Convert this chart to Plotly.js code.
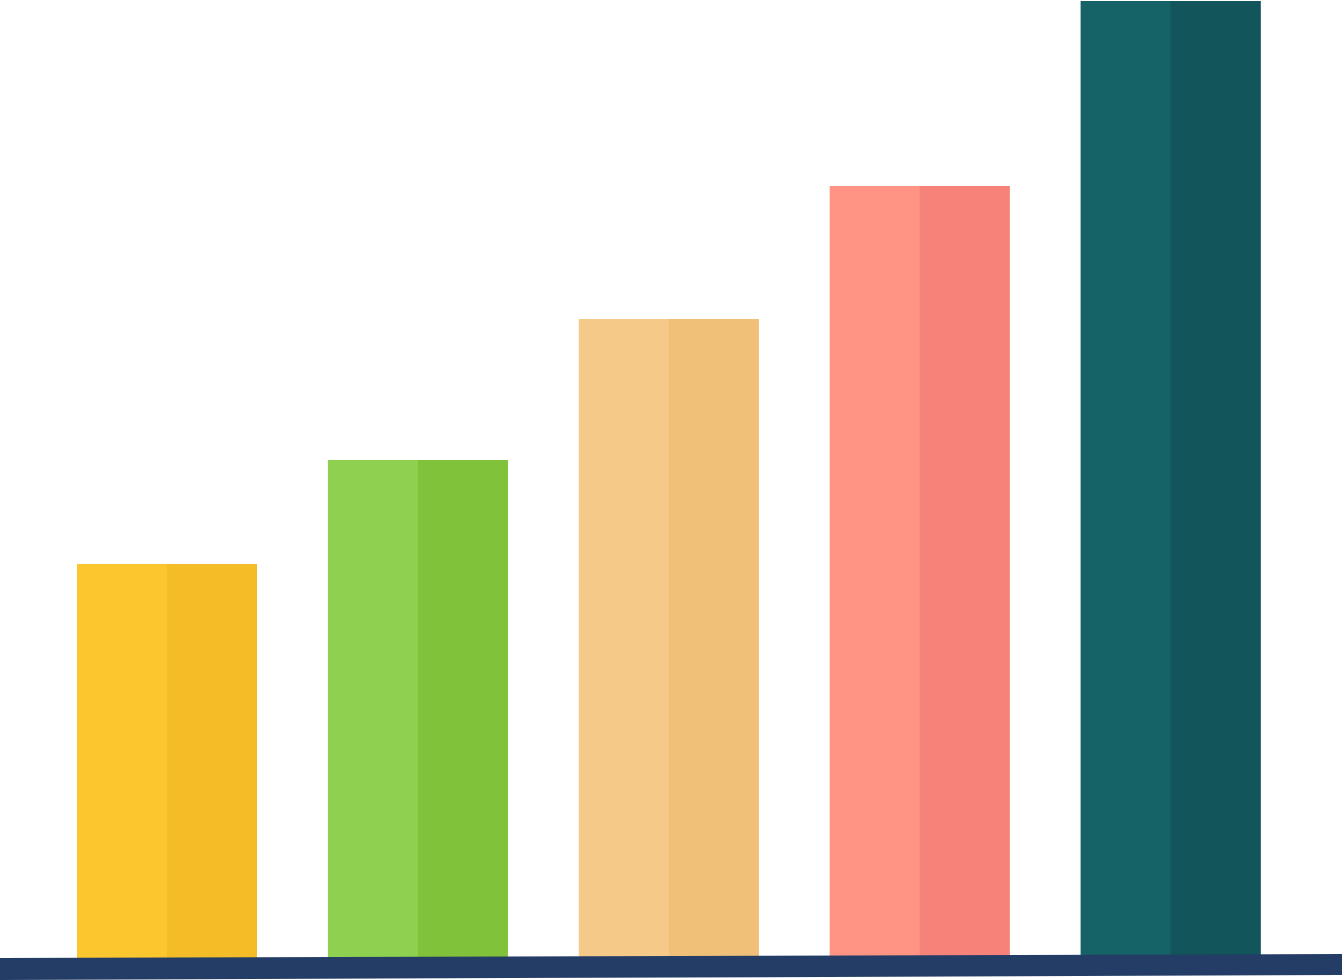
<!DOCTYPE html>
<html>
<head>
<meta charset="utf-8">
<script src="https://cdn.plot.ly/plotly-3.0.1.min.js"></script>
<style>html,body{margin:0;padding:0;background:#fff;}#chart{width:1342px;height:980px;}</style>
</head>
<body>
<div id="chart"></div>
<script>
// Data
const categories = [0, 1, 2, 3, 4];
const values = [394, 498, 639, 772, 957];
const lightColors = ['#FCC72E', '#8ED150', '#F5C988', '#FF9485', '#156366'];
const darkColors = ['#F4BD27', '#80C33A', '#F0BF78', '#F5837A', '#12555A'];

const half = 90 / 250.9;

const traces = [
  {type: 'bar', x: categories, y: values, width: 2 * half, offset: -half,
   marker: {color: lightColors, line: {width: 0}}, hoverinfo: 'skip'},
  {type: 'bar', x: categories, y: values, width: half, offset: 0,
   marker: {color: darkColors, line: {width: 0}}, hoverinfo: 'skip'}
];

const layout = {
  width: 1342, height: 980,
  margin: {l: 0, r: 0, t: 0, b: 0, pad: 0},
  paper_bgcolor: '#ffffff', plot_bgcolor: '#ffffff',
  showlegend: false,
  barmode: 'overlay',
  xaxis: {range: [-167 / 250.9, (1342 - 167) / 250.9], visible: false, fixedrange: true},
  yaxis: {range: [-22, 958], visible: false, fixedrange: true},
  shapes: [{
    type: 'path', xref: 'paper', yref: 'y', layer: 'above',
    path: 'M0,0 L1,4 L1,-17 L0,-22 Z',
    fillcolor: '#243D66', line: {width: 0}
  }]
};

Plotly.newPlot('chart', traces, layout, {staticPlot: true, displayModeBar: false});
</script>
</body>
</html>
